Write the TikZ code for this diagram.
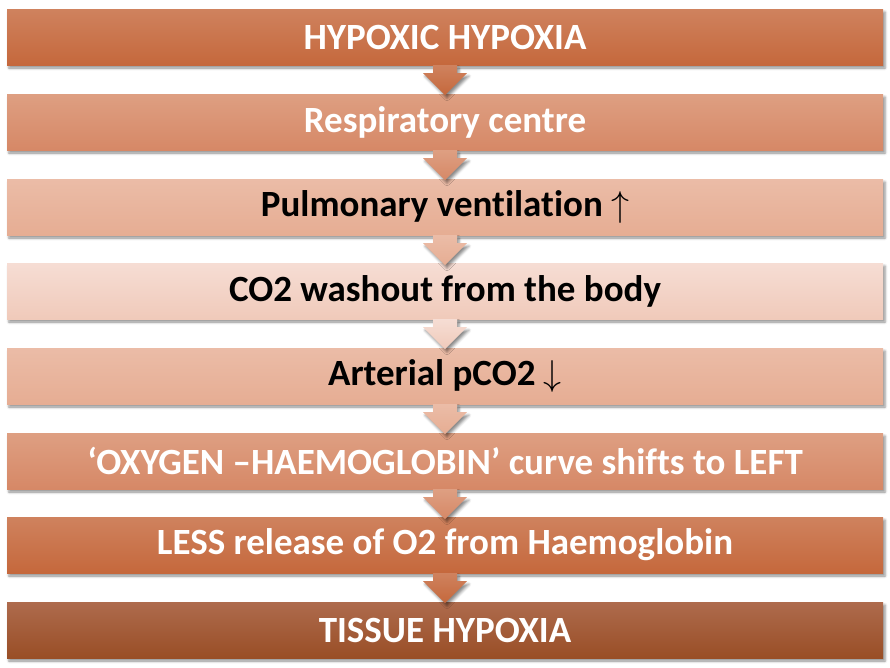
\RequirePackage{fix-cm}
\documentclass[tikz,border=0pt]{standalone}
\usepackage{fontspec}
\setmainfont[Ligatures={NoCommon}]{Carlito}
\usetikzlibrary{shadows.blur,calc}
\definecolor{aT}{HTML}{CF825E}
\definecolor{aB}{HTML}{C5683C}
\definecolor{bT}{HTML}{DE9F82}
\definecolor{bB}{HTML}{D68866}
\definecolor{cT}{HTML}{EBBCA7}
\definecolor{cB}{HTML}{E6AD93}
\definecolor{dT}{HTML}{F6DDD4}
\definecolor{dB}{HTML}{F0CABA}
\definecolor{eT}{HTML}{AE6B4D}
\definecolor{eB}{HTML}{994E26}
\tikzset{
  boxshadow/.style={blur shadow={shadow xshift=2pt,shadow yshift=-3pt,shadow blur radius=2.5pt,shadow opacity=45}},
  flowbox/.style={boxshadow,minimum width=876pt,minimum height=56pt,inner sep=0pt,
    font=\fontsize{37}{44}\selectfont\bfseries},
  shA/.style={top color=aT,bottom color=aB},
  shB/.style={top color=bT,bottom color=bB},
  shC/.style={top color=cT,bottom color=cB},
  shD/.style={top color=dT,bottom color=dB},
  shE/.style={top color=eT,bottom color=eB},
}
\newcommand{\blockarrow}[2]{%
  \path[boxshadow,#2] ($(#1.south)+(-12,0)$) -- ($(#1.south)+(12,0)$) -- ($(#1.south)+(12,8)$)
    -- ($(#1.south)+(22,8)$) -- ($(#1.south)+(0,30)$) -- ($(#1.south)+(-22,8)$)
    -- ($(#1.south)+(-12,8)$) -- cycle;}
\newcommand{\bigarr}[1]{{\fontsize{36}{44}\selectfont$#1$}}
\begin{document}
\begin{tikzpicture}[x=1pt,y=-1pt]
\useasboundingbox (0,0) rectangle (890,667);
\node[flowbox,shA,text=white] (b1) at (445,37) {HYPOXIC HYPOXIA};
\node[flowbox,shB,text=white] (b2) at (445,122) {Respiratory centre};
\node[flowbox,shC,text=black] (b3) at (445,207) {Pulmonary ventilation \bigarr{\uparrow}};
\node[flowbox,shD,text=black] (b4) at (445,291) {CO2 washout from the body};
\node[flowbox,shC,text=black] (b5) at (445,376) {Arterial pCO2 \bigarr{\downarrow}};
\node[flowbox,shB,text=white] (b6) at (445,461) {‘OXYGEN –HAEMOGLOBIN’ curve shifts to LEFT};
\node[flowbox,shA,text=white] (b7) at (445,545) {LESS release of O2 from Haemoglobin};
\node[flowbox,shE,text=white] (b8) at (445,630) {TISSUE HYPOXIA};
\blockarrow{b1}{shA}
\blockarrow{b2}{shB}
\blockarrow{b3}{shC}
\blockarrow{b4}{shD}
\blockarrow{b5}{shC}
\blockarrow{b6}{shB}
\blockarrow{b7}{shA}
\end{tikzpicture}
\end{document}
